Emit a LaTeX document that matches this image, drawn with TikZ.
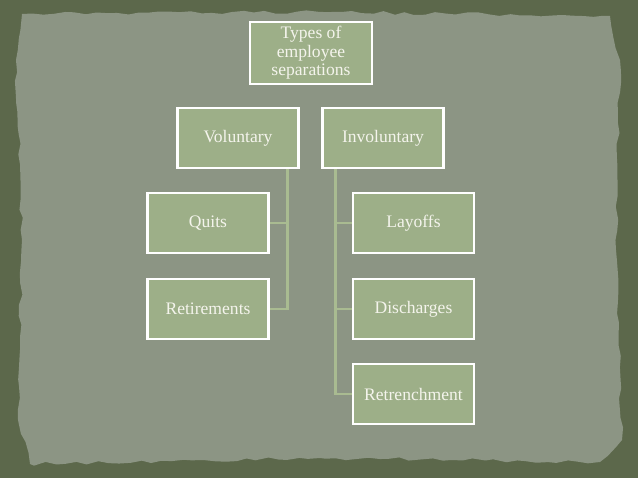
\documentclass[tikz,border=0pt]{standalone}
\usepackage{fontspec}
\setmainfont{Liberation Serif}
\usetikzlibrary{calc,decorations.pathmorphing}

\definecolor{framegreen}{HTML}{5C684B}
\definecolor{papergrey}{HTML}{8C9584}
\definecolor{boxgreen}{HTML}{9DAF88}
\definecolor{linkgreen}{HTML}{A9BB91}
\definecolor{boxtext}{HTML}{F4F4EC}

\tikzset{
  sepbox/.style={draw=white, line width=1.2pt, fill=boxgreen, text=boxtext,
    minimum width=2.42cm, minimum height=1.2cm, font=\fontsize{10}{11}\selectfont,
    align=center, inner sep=1pt},
  link/.style={draw=linkgreen, line width=1.4pt}
}

\begin{document}
\begin{tikzpicture}
        \useasboundingbox (0,0) rectangle (12.76,9.56);
        % background frame and paper
        \fill[framegreen] (0,0) rectangle (12.76,9.56);
        \pgfmathsetseed{7}
        \fill[papergrey, decorate, decoration={random steps, segment length=6pt, amplitude=1pt}]
            (0.44,9.28) -- (6.40,9.32) -- (12.20,9.24) -- (12.40,8.36) -- (12.32,4.56)
            -- (12.44,0.76) -- (12.00,0.32) -- (6.40,0.40) -- (0.60,0.28)
            -- (0.36,1.16) -- (0.44,4.76) -- (0.32,8.36) -- cycle;

        % boxes
        \node[sepbox, minimum width=2.44cm, minimum height=1.24cm, inner ysep=0pt,
              font=\fontsize{10}{10.6}\selectfont] (types) at (6.22,8.50) {Types of\\employee\\separations};
        \node[sepbox] (vol) at (4.76,6.80) {Voluntary};
        \node[sepbox] (invol) at (7.66,6.80) {Involuntary};
        \node[sepbox] (quits) at (4.16,5.10) {Quits};
        \node[sepbox] (retire) at (4.16,3.38) {Retirements};
        \node[sepbox] (layoffs) at (8.27,5.10) {Layoffs};
        \node[sepbox] (disch) at (8.27,3.38) {Discharges};
        \node[sepbox] (retrench) at (8.27,1.68) {Retrenchment};

        % connectors
        \draw[link] ([xshift=-0.24cm]vol.south east) |- (quits.east);
        \draw[link] ([xshift=-0.24cm]vol.south east) |- (retire.east);
        \draw[link] ([xshift=0.28cm]invol.south west) |- (layoffs.west);
        \draw[link] ([xshift=0.28cm]invol.south west) |- (disch.west);
        \draw[link] ([xshift=0.28cm]invol.south west) |- (retrench.west);
    \end{tikzpicture}
\end{document}
